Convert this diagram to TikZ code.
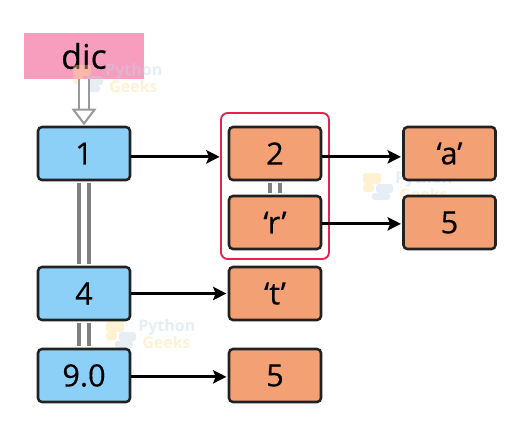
\documentclass[tikz,border=0pt]{standalone}
\usepackage{fontspec}
\setmainfont{Open Sans}
\newfontfamily\cellfont[FakeBold=0.35]{Open Sans}
\usetikzlibrary{arrows.meta,calc}
\definecolor{bluebox}{HTML}{8CCFF7}
\definecolor{orangebox}{HTML}{F3A074}
\definecolor{pinkbox}{HTML}{F79DBE}
\definecolor{redframe}{HTML}{E8224F}
\definecolor{edgedark}{HTML}{222222}
\definecolor{wmblue}{HTML}{C3D3E6}
\definecolor{wmyellow}{HTML}{FFDF90}
\tikzset{
  cell/.style={draw=edgedark,line width=1.9pt,rounded corners=3pt,minimum width=69pt,minimum height=39.75pt,inner sep=0pt,font=\cellfont\fontsize{23}{23}\selectfont,text=black},
  keycell/.style={cell,fill=bluebox},
  valcell/.style={cell,fill=orangebox},
  link/.style={draw=black,line width=2.3pt,-{Stealth[length=10pt,width=10pt,inset=2pt]},shorten >=1pt},
  chain/.style={draw=gray,line width=2.6pt,double=white,double distance=4.8pt},
  pointer/.style={draw=gray!80,line width=1.5pt,double=white,double distance=5.6pt},
  wmtext/.style={inner sep=0pt,font=\bfseries\fontsize{12}{12}\selectfont,opacity=.4},
}
\newcommand{\wmark}[3]{%
  \begin{scope}[shift={(#1,#2)}]
    \fill[wmyellow,opacity=.4,rounded corners=2pt] (0,0) rectangle (18,11) (0,11) rectangle (11,19);
    \fill[wmblue,opacity=.4,rounded corners=2pt] (13,11) rectangle (30,20) (9,20) rectangle (27,27);
    \node[wmtext,text=wmblue,anchor=west] (#3p) at (32,6) {Python};
    \node[wmtext,text=wmyellow,anchor=west] (#3g) at (36,21) {Geeks};
  \end{scope}}
\begin{document}
\begin{tikzpicture}[x=.75pt,y=-.75pt]
\useasboundingbox (0,0) rectangle (520,435);
\node[fill=pinkbox,minimum width=90pt,minimum height=34.5pt,inner sep=0pt,font=\cellfont\fontsize{25.5}{25.5}\selectfont] (dic) at (84,56) {dic};
% watermarks lie behind the boxes
\wmark{73}{65}{wa}
\wmark{363}{173}{wb}
\wmark{106}{321}{wc}
\draw[redframe,line width=1.4pt,rounded corners=5pt] (221,113) rectangle (329,259);
\coordinate (grpw) at (221,186);
\node[keycell] (k1) at (84,153.5) {1};
\node[keycell] (k4) at (84,293.5) {4};
\node[keycell] (k9) at (84,375.5) {9.0};
\node[valcell] (v2) at (275,153.5) {2};
\node[valcell] (vr) at (275,222.5) {‘r’};
\node[valcell] (vt) at (275,293.5) {‘t’};
\node[valcell] (v5b) at (275,375.5) {5};
\node[valcell] (va) at (449.5,153.5) {‘a’};
\node[valcell] (v5a) at (449.5,222.5) {5};
% chains
\draw[chain,shorten <=1pt,shorten >=1pt] (k1) -- (k4);
\draw[chain,shorten <=1pt,shorten >=1pt] (k4) -- (k9);
\draw[chain,shorten <=1pt,shorten >=1pt] (v2) -- (vr);
% hollow pointer
\draw[pointer,shorten >=11pt] (dic.south) -- (k1.north);
\draw[draw=gray!80,line width=1.5pt,fill=white,line join=miter]
  ($(k1.north)+(-10.5,-16)$) -- ($(k1.north)+(10.5,-16)$) -- ($(k1.north)+(0,-2)$) -- cycle;
% arrows
\draw[link] ([yshift=-2.5pt]k1.east) -- ([yshift=-2.5pt]k1.east -| grpw);
\draw[link] ([yshift=-2.5pt]v2.east) -- ([yshift=-2.5pt]va.west);
\draw[link] ([yshift=-1pt]vr.east) -- ([yshift=-1pt]v5a.west);
\draw[link] (k4.east) -- (vt.west);
\draw[link] ([yshift=-1pt]k9.east) -- ([yshift=-1pt]v5b.west);
\end{tikzpicture}
\end{document}
